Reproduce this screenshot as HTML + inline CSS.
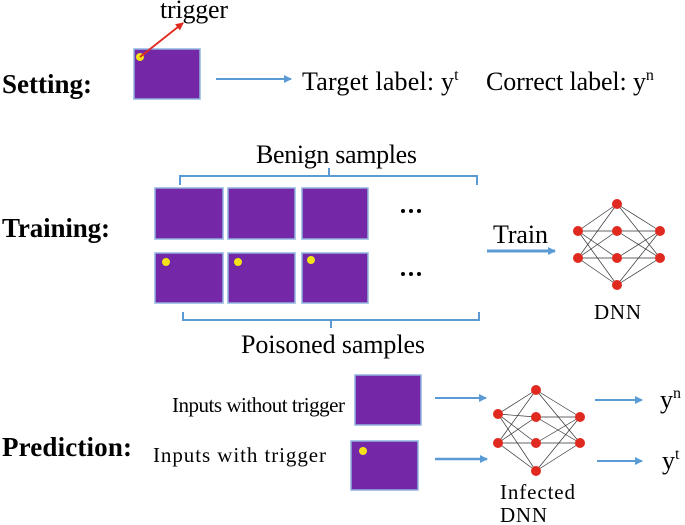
<!DOCTYPE html>
<html><head><meta charset="utf-8"><style>
html,body{margin:0;padding:0;background:#fff;}
svg{display:block;}
text{font-family:"Liberation Serif",serif;fill:#000;}
.b{font-weight:bold;font-size:27px;}
.t{font-size:26px;}
.s{font-size:21px;}
.r{fill:#7427a6;stroke:#8fb4dd;stroke-width:1.5;}
.y{fill:#f2e21a;}
.bl{stroke:#5b9bd5;stroke-width:2;fill:none;}
.n{fill:#e02a1f;}
.w{stroke:#333;stroke-width:0.7;}
</style></head><body>
<svg width="685" height="525" viewBox="0 0 685 525" xmlns="http://www.w3.org/2000/svg">
<defs>
<marker id="ab" markerWidth="8" markerHeight="8" refX="7" refY="4" orient="auto" markerUnits="userSpaceOnUse"><path d="M0,0 L8,4 L0,8 z" fill="#5b9bd5"/></marker>
<marker id="ar" markerWidth="8" markerHeight="8" refX="7" refY="4" orient="auto" markerUnits="userSpaceOnUse"><path d="M0,0 L8,4 L0,8 z" fill="#e02a1f"/></marker>
</defs>
<text class="b" x="2" y="93" textLength="90">Setting:</text>
<rect class="r" x="134" y="49" width="66" height="50"/>
<circle class="y" cx="140" cy="57" r="4"/>
<line x1="140" y1="57" x2="183" y2="23" stroke="#e02a1f" stroke-width="1.8" marker-end="url(#ar)"/>
<text class="t" x="160" y="18" font-size="24" textLength="68">trigger</text>
<line class="bl" x1="216" y1="79" x2="291" y2="79" marker-end="url(#ab)"/>
<text class="t" x="302" y="90"><tspan textLength="152">Target label: y</tspan><tspan font-size="16" dy="-10">t</tspan></text>
<text class="t" x="486" y="90"><tspan textLength="160">Correct label: y</tspan><tspan font-size="16" dy="-10">n</tspan></text>
<text class="b" x="2" y="237" textLength="108">Training:</text>
<text class="t" x="256" y="163" textLength="161">Benign samples</text>
<path class="bl" d="M180,185 V176 H477 V185 M329,176 V168"/>
<rect class="r" x="155" y="188" width="68" height="51"/>
<rect class="r" x="228" y="188" width="67" height="51"/>
<rect class="r" x="302" y="188" width="66" height="51"/>
<rect class="r" x="155" y="253" width="68" height="50"/>
<rect class="r" x="228" y="253" width="67" height="50"/>
<rect class="r" x="302" y="253" width="66" height="50"/>
<circle class="y" cx="166" cy="262" r="4"/>
<circle class="y" cx="238" cy="262" r="4"/>
<circle class="y" cx="311" cy="260" r="4"/>
<g fill="#000"><circle cx="403" cy="211" r="2"/><circle cx="411" cy="211" r="2"/><circle cx="419" cy="211" r="2"/>
<circle cx="403" cy="274" r="2"/><circle cx="411" cy="274" r="2"/><circle cx="419" cy="274" r="2"/></g>
<path class="bl" d="M183,312 V320 H479 V312 M331,320 V328"/>
<text class="t" x="241" y="353" textLength="184">Poisoned samples</text>
<line x1="487" y1="251" x2="555" y2="251" stroke="#5b9bd5" stroke-width="3" marker-end="url(#ab)"/>
<text class="t" x="493" y="243" textLength="55">Train</text>
<g class="w">
<line x1="578" y1="231" x2="617" y2="204"/><line x1="578" y1="231" x2="617" y2="231"/><line x1="578" y1="231" x2="617" y2="258"/><line x1="578" y1="231" x2="617" y2="285"/>
<line x1="578" y1="258" x2="617" y2="204"/><line x1="578" y1="258" x2="617" y2="231"/><line x1="578" y1="258" x2="617" y2="258"/><line x1="578" y1="258" x2="617" y2="285"/>
<line x1="660" y1="231" x2="617" y2="204"/><line x1="660" y1="231" x2="617" y2="231"/><line x1="660" y1="231" x2="617" y2="258"/><line x1="660" y1="231" x2="617" y2="285"/>
<line x1="660" y1="258" x2="617" y2="204"/><line x1="660" y1="258" x2="617" y2="231"/><line x1="660" y1="258" x2="617" y2="258"/><line x1="660" y1="258" x2="617" y2="285"/>
</g>
<g class="n"><circle cx="578" cy="231" r="5"/><circle cx="578" cy="258" r="5"/><circle cx="617" cy="204" r="5"/><circle cx="617" cy="231" r="5"/><circle cx="617" cy="258" r="5"/><circle cx="617" cy="285" r="5"/><circle cx="660" cy="231" r="5"/><circle cx="660" cy="258" r="5"/></g>
<text class="s" x="594" y="319" font-size="22" textLength="47">DNN</text>
<text class="b" x="2" y="456" textLength="130">Prediction:</text>
<text class="s" x="172" y="412" textLength="173">Inputs without trigger</text>
<rect class="r" x="355" y="375" width="66" height="50"/>
<text class="s" x="153" y="462" font-size="22" textLength="173">Inputs with trigger</text>
<rect class="r" x="351" y="441" width="67" height="49"/>
<circle class="y" cx="363" cy="451" r="4"/>
<line class="bl" x1="435" y1="398" x2="486" y2="398" marker-end="url(#ab)"/>
<line x1="435" y1="459" x2="487" y2="459" stroke="#5b9bd5" stroke-width="2.5" marker-end="url(#ab)"/>
<g class="w">
<line x1="498" y1="414" x2="536" y2="390"/><line x1="498" y1="414" x2="536" y2="417"/><line x1="498" y1="414" x2="536" y2="443"/><line x1="498" y1="414" x2="536" y2="471"/>
<line x1="498" y1="443" x2="536" y2="390"/><line x1="498" y1="443" x2="536" y2="417"/><line x1="498" y1="443" x2="536" y2="443"/><line x1="498" y1="443" x2="536" y2="471"/>
<line x1="580" y1="417" x2="536" y2="390"/><line x1="580" y1="417" x2="536" y2="417"/><line x1="580" y1="417" x2="536" y2="443"/><line x1="580" y1="417" x2="536" y2="471"/>
<line x1="580" y1="443" x2="536" y2="390"/><line x1="580" y1="443" x2="536" y2="417"/><line x1="580" y1="443" x2="536" y2="443"/><line x1="580" y1="443" x2="536" y2="471"/>
</g>
<g class="n"><circle cx="498" cy="414" r="5"/><circle cx="498" cy="443" r="5"/><circle cx="536" cy="390" r="5"/><circle cx="536" cy="417" r="5"/><circle cx="536" cy="443" r="5"/><circle cx="536" cy="471" r="5"/><circle cx="580" cy="417" r="5"/><circle cx="580" cy="443" r="5"/></g>
<line class="bl" x1="595" y1="400" x2="642" y2="400" marker-end="url(#ab)"/>
<line class="bl" x1="597" y1="461" x2="642" y2="461" marker-end="url(#ab)"/>
<text class="t" x="660" y="408">y<tspan font-size="16" dy="-10">n</tspan></text>
<text class="t" x="662" y="469">y<tspan font-size="16" dy="-10">t</tspan></text>
<text class="s" x="500" y="499" font-size="22" textLength="75">Infected</text>
<text class="s" x="500" y="522" font-size="22" textLength="47">DNN</text>
</svg>
</body></html>
